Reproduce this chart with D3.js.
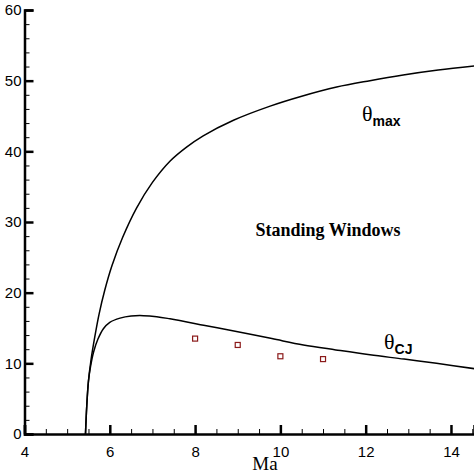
<!DOCTYPE html><html><head><meta charset="utf-8"><script src="https://cdn.jsdelivr.net/npm/d3@7"></script>
<style>body{margin:0;background:#fff}</style></head><body><svg width="474" height="474"></svg><script>
const thetaMax=[[5.43,0],[5.46,4],[5.5,7.5],[5.56,10.5],[5.65,13.8],[5.75,17],[5.88,20.3],[6.05,23.8],[6.3,27.8],[6.63,32.0],[7.0,35.6],[7.41,38.6],[7.8,40.6],[8.19,42.2],[8.9,44.4],[9.76,46.4],[10.5,47.8],[11.32,49.1],[12.1,50.0],[12.88,50.8],[13.7,51.5],[14.6,52.1]];
const thetaCJ=[[5.43,0],[5.46,4],[5.5,7.5],[5.55,9.6],[5.62,11.6],[5.72,13.4],[5.85,14.9],[6.0,15.8],[6.24,16.4],[6.5,16.7],[6.79,16.75],[7.1,16.6],[7.41,16.3],[8.2,15.4],[8.97,14.5],[9.8,13.5],[10.54,12.6],[11.3,11.9],[12.1,11.2],[12.9,10.6],[13.66,10.0],[14.6,9.2]];
const points=[[8.0,13.5],[9.0,12.6],[10.0,11.0],[11.0,10.6]];
const xTicks=[4,6,8,10,12,14], yTicks=[0,10,20,30,40,50,60];
const svg=d3.select("svg");
const x=d3.scaleLinear().domain([4,14.54]).range([24.5,474]);
const y=d3.scaleLinear().domain([0,60]).range([434,10]);
const line=d3.line().x(d=>x(d[0])).y(d=>y(d[1])).curve(d3.curveCatmullRom.alpha(0.5));
svg.append("g").attr("transform","translate(0,434)").call(d3.axisBottom(x).tickValues(d3.range(4,15,0.5)).tickSize(-5).tickFormat(""))
 .call(g=>g.select(".domain").remove()).selectAll("line").attr("stroke","#000").attr("stroke-width",1);
svg.append("g").attr("transform","translate(0,434)").call(d3.axisBottom(x).tickValues(xTicks).tickSize(-9).tickPadding(12))
 .call(g=>g.select(".domain").attr("stroke-width",2.5)).call(g=>g.selectAll("line").attr("stroke-width",2.5))
 .call(g=>g.selectAll("text").attr("font-family","Liberation Sans, Arial").attr("font-size",15).attr("fill","#000"));
svg.append("g").attr("transform","translate(24.5,0)").call(d3.axisLeft(y).tickValues(d3.range(0,61,2)).tickSize(-5).tickFormat(""))
 .call(g=>g.select(".domain").remove()).selectAll("line").attr("stroke","#000");
svg.append("g").attr("transform","translate(24.5,0)").call(d3.axisLeft(y).tickValues(yTicks).tickSize(-9).tickPadding(3))
 .call(g=>g.select(".domain").attr("stroke-width",2.5)).call(g=>g.selectAll("line").attr("stroke-width",2.5))
 .call(g=>g.selectAll("text").attr("font-family","Liberation Sans, Arial").attr("font-size",15).attr("fill","#000"));
[thetaMax,thetaCJ].forEach(s=>svg.append("path").attr("d",line(s)).attr("fill","none").attr("stroke","#000").attr("stroke-width",1.5));
svg.selectAll("rect.p").data(points).join("rect").attr("x",d=>x(d[0])-2.5).attr("y",d=>y(d[1])-2.5).attr("width",5).attr("height",5)
 .attr("fill","none").attr("stroke","#8b1a1a").attr("stroke-width",1.2);
const serif="Liberation Serif, Times New Roman";
svg.append("text").attr("x",265).attr("y",470).attr("text-anchor","middle").attr("font-family",serif).attr("font-size",19).text("Ma");
svg.append("text").attr("x",328).attr("y",236).attr("text-anchor","middle").attr("font-family",serif).attr("font-weight","bold").attr("font-size",18).text("Standing Windows");
const t1=svg.append("text").attr("x",362).attr("y",121).attr("font-family",serif).attr("font-size",22).text("θ");
t1.append("tspan").attr("dy",5).attr("font-family","Liberation Sans, Arial").attr("font-size",14).attr("font-weight","bold").text("max");
const t2=svg.append("text").attr("x",384).attr("y",349).attr("font-family",serif).attr("font-size",22).text("θ");
t2.append("tspan").attr("dy",5).attr("font-family","Liberation Sans, Arial").attr("font-size",14).attr("font-weight","bold").text("CJ");
</script></body></html>
